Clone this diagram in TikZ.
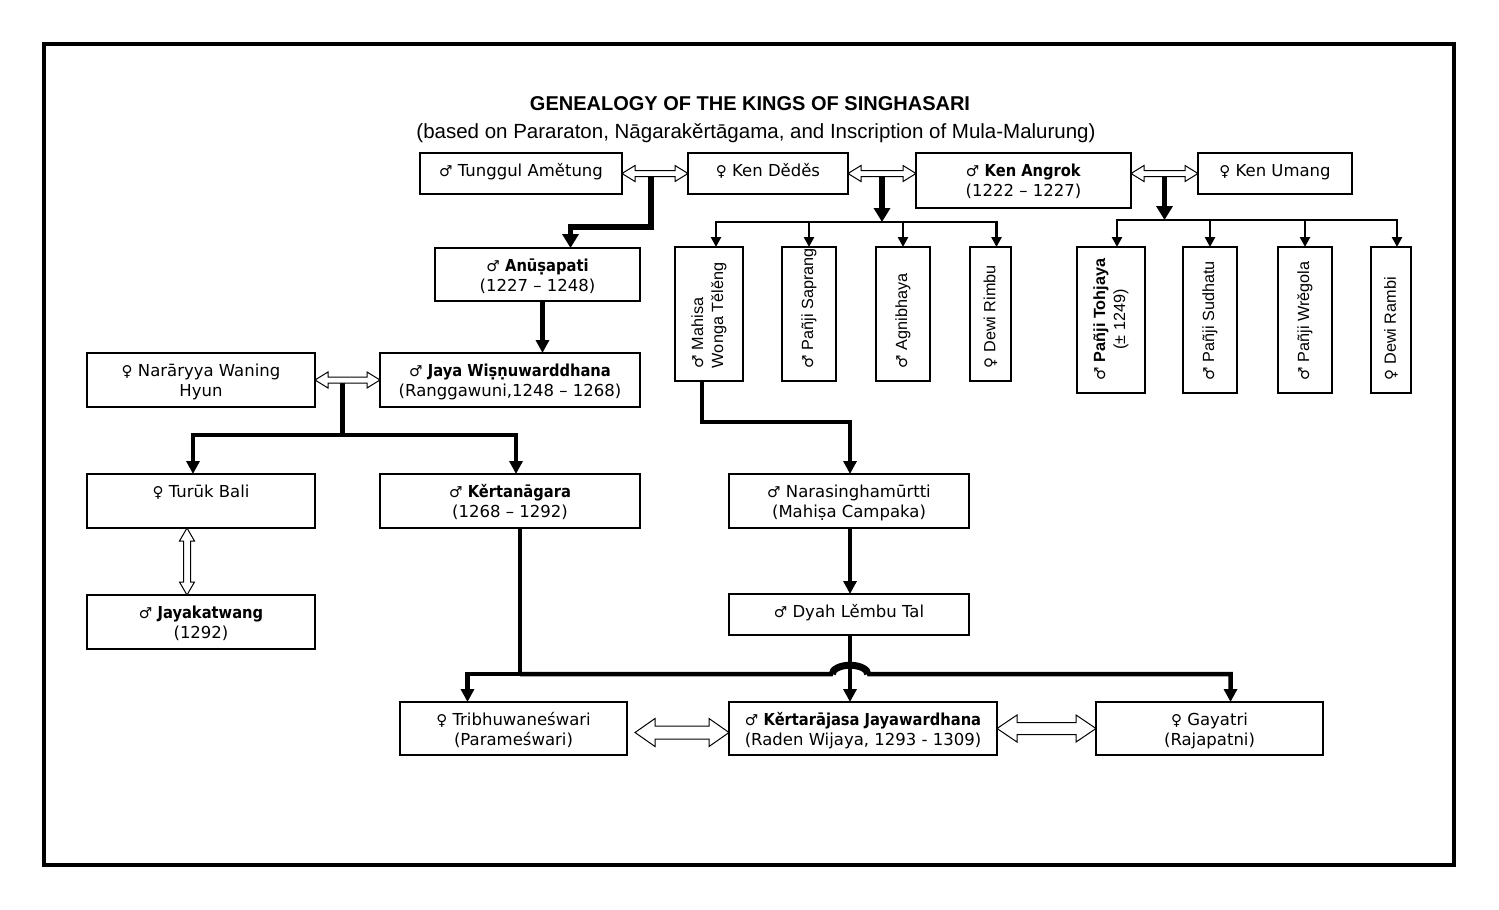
\documentclass[tikz,border=0pt]{standalone}
\usepackage{fontspec}
\usepackage{graphicx}
\setmainfont{DejaVu Sans}
\newfontfamily\dv{DejaVu Sans}
\newfontfamily\ar{Liberation Sans}
\usetikzlibrary{calc,arrows.meta}
\newcommand\ma{{\dv\fontsize{15}{15}\selectfont ♂}}
\newcommand\fe{{\dv\fontsize{15}{15}\selectfont ♀}}
\newcommand\nm[1]{\scalebox{0.89}[1]{\textbf{#1}}}
\tikzset{
  box/.style={draw,line width=1.3pt,inner sep=0pt,outer sep=0pt},
  hollow/.style={draw,fill=white,line width=1pt,line join=miter},
  thn/.style={line width=2.5pt},
  thnarr/.style={thn,-{Triangle[length=10pt,width=10pt]}},
  med/.style={line width=4.5pt},
  medarr/.style={med,-{Triangle[length=13pt,width=13pt]}},
  thk/.style={line width=5.8pt},
  thkarr/.style={thk,-{Triangle[length=14pt,width=16pt]}}
}
% horizontal box: name, x1, y1, x2, y2, text
\newcommand\hb[6]{\node[box,minimum width={#4-#2},minimum height={#5-#3}] (#1) at ({(#2+#4)/2},{(#3+#5)/2}) {\begin{minipage}[c][\dimexpr#5pt-#3pt\relax][t]{\dimexpr#4pt-#2pt\relax}\centering\fontsize{16.5}{20}\selectfont\vspace*{9pt}\strut #6\end{minipage}};}
% vertical box with rotated text
\newcommand\vb[6]{\node[box,minimum width={#4-#2},minimum height={#5-#3}] (#1) at ({(#2+#4)/2},{(#3+#5)/2}) {\rotatebox{90}{\begin{minipage}[c][\dimexpr#4pt-#2pt\relax][c]{\dimexpr#5pt-#3pt\relax}\raggedright\ar\fontsize{16.2}{20}\selectfont #6\end{minipage}}};}
% hollow double arrows: tip1, tip2, shaft half width, head half width, head length
\newcommand\harr[5]{\draw[hollow] (#1) -- ++(#5,#4) -- ++(0,{#3-#4}) -- ($(#2)+(-#5,#3)$) -- ++(0,{#4-#3}) -- (#2) -- ++(-#5,-#4) -- ++(0,{#4-#3}) -- ($(#1)+(#5,-#3)$) -- ++(0,{#3-#4}) -- cycle;}
\newcommand\varr[5]{\draw[hollow] (#1) -- ++(#4,#5) -- ++({#3-#4},0) -- ($(#2)+(#3,-#5)$) -- ++({#4-#3},0) -- (#2) -- ++(-#4,-#5) -- ++({#4-#3},0) -- ($(#1)+(-#3,#5)$) -- ++({#3-#4},0) -- cycle;}
\begin{document}
\begin{tikzpicture}[x=1pt,y=-1pt]
\useasboundingbox (0,0) rectangle (1499,910);
\fill[white] (0,0) rectangle (1499,910);
\draw[line width=4.5pt] (44,44) rectangle (1454,865);

\node[font={\ar\bfseries\fontsize{20}{24}\selectfont}] (title) at (750,104) {GENEALOGY OF THE KINGS OF SINGHASARI};
\node[font={\ar\fontsize{20.5}{24}\selectfont}] (sub) at (756,133) {(based on Pararaton, Nāgarakěrtāgama, and Inscription of Mula-Malurung)};

% boxes
\hb{tung}{420}{153}{622}{194}{\ma\ Tunggul Amětung}
\hb{dedes}{688}{153}{848}{194}{\fe\ Ken Děděs}
\hb{angrok}{916}{153}{1131}{208}{\ma\ \nm{Ken Angrok}\\(1222 – 1227)}
\hb{umang}{1198}{153}{1352}{194}{\fe\ Ken Umang}
\hb{anus}{435}{248}{640}{301}{\ma\ \nm{Anūṣapati}\\(1227 – 1248)}
\hb{jaya}{380}{353}{640}{407}{\ma\ \nm{Jaya Wiṣṇuwarddhana}\\(Ranggawuni,1248 – 1268)}
\hb{narar}{87}{353}{315}{407}{\fe\ Narāryya Waning\\Hyun}
\hb{turuk}{87}{474}{315}{528}{\fe\ Turūk Bali}
\hb{kerta}{380}{474}{640}{528}{\ma\ \nm{Kěrtanāgara}\\(1268 – 1292)}
\hb{narsi}{729}{474}{969}{528}{\ma\ Narasinghamūrtti\\(Mahiṣa Campaka)}
\hb{jkt}{87}{595}{315}{649}{\ma\ \nm{Jayakatwang}\\(1292)}
\hb{dyah}{729}{594}{969}{635}{\ma\ Dyah Lěmbu Tal}
\hb{tribh}{400}{702}{627}{755}{\fe\ Tribhuwaneśwari\\(Parameśwari)}
\hb{kr}{729}{702}{997}{755}{\ma\ \nm{Kěrtarājasa Jayawardhana}\\(Raden Wijaya, 1293 - 1309)}
\hb{gay}{1096}{702}{1323}{755}{\fe\ Gayatri\\(Rajapatni)}

\vb{mahisa}{675}{247}{743}{381}{\hspace*{13pt}\ma\ Mahisa\\\hspace*{13pt}Wonga Tělěng}
\vb{saprang}{782}{247}{836}{381}{\hspace*{13pt}\ma\ Pañji Saprang}
\vb{agni}{876}{247}{930}{381}{\hspace*{13pt}\ma\ Agnibhaya}
\vb{rimbu}{970}{247}{1011}{381}{\hspace*{13pt}\fe\ Dewi Rimbu}
\vb{tohjaya}{1077}{247}{1145}{393}{\hspace*{13pt}\begin{tabular}{@{}c@{}}\ma\ \textbf{Pañji Tohjaya}\\(± 1249)\end{tabular}}
\vb{sudhatu}{1183}{247}{1237}{393}{\hspace*{13pt}\ma\ Pañji Sudhatu}
\vb{wregola}{1278}{247}{1332}{393}{\hspace*{13pt}\ma\ Pañji Wrěgola}
\vb{rambi}{1371}{247}{1411}{393}{\hspace*{13pt}\fe\ Dewi Rambi}

% coordinates
\coordinate (ab1) at (tung.east); \coordinate (ab2) at (dedes.west);
\coordinate (bc1) at (dedes.east); \coordinate (bc2) at (angrok.west |- dedes.east);
\coordinate (cd1) at (angrok.east |- umang.west); \coordinate (cd2) at (umang.west);
\coordinate (abm) at ($(ab1)!.5!(ab2)+(-4,0)$);
\coordinate (bcm) at ($(bc1)!.5!(bc2)$);
\coordinate (cdm) at ($(cd1)!.5!(cd2)$);
\coordinate (busL) at ($(mahisa.north)+(0,-25)$);
\coordinate (busR) at ($(tohjaya.north)+(0,-27)$);

% stems from marriages
\draw[thkarr] (abm) |- ($(anus.north)+(33,-21)$) -- ($(anus.north)+(33,0)$);
\draw[thkarr] (bcm) -- (bcm |- busL);
\draw[thkarr] (cdm) -- (cdm |- busR);

% children of Ken Dedes
\coordinate (dl1) at ($(mahisa.north)+(7,0)$);
\coordinate (dl2) at (saprang.north);
\coordinate (dl3) at (agni.north);
\coordinate (dl4) at ($(rimbu.north)+(6,0)$);
\draw[thn,line cap=rect] (dl1 |- busL) -- (dl4 |- busL);
\foreach \d in {dl1,dl2,dl3,dl4} \draw[thnarr] (\d |- busL) -- (\d);

% children of Ken Umang
\coordinate (dr1) at ($(tohjaya.north)+(6,0)$);
\coordinate (dr2) at (sudhatu.north);
\coordinate (dr3) at (wregola.north);
\coordinate (dr4) at ($(rambi.north)+(6,0)$);
\draw[thn,line cap=rect] (dr1 |- busR) -- (dr4 |- busR);
\foreach \d in {dr1,dr2,dr3,dr4} \draw[thnarr] (\d |- busR) -- (\d);

% top marriage arrows
\harr{ab1}{ab2}{3}{8}{13}
\harr{bc1}{bc2}{3}{8}{13}
\harr{cd1}{cd2}{3}{8}{13}

% Anusapati -> Jaya
\coordinate (aj) at ($(anus.south)+(5,0)$);
\draw[medarr] (aj) -- (aj |- jaya.north);

% Nararyya - Jaya and children
\coordinate (nj1) at (narar.east); \coordinate (nj2) at (jaya.west);
\coordinate (njm) at ($(nj1)!.5!(nj2)+(-5,0)$);
\coordinate (bar2) at ($(turuk.north)+(0,-39)$);
\coordinate (t1) at ($(turuk.north)+(-8,0)$);
\coordinate (k1) at ($(kerta.north)+(6,0)$);
\draw[med] (njm) -- (njm |- bar2);
\draw[medarr] (njm |- bar2) -| (t1);
\draw[medarr] (njm |- bar2) -| (k1);
\harr{nj1}{nj2}{3}{8}{13}

% Turuk Bali - Jayakatwang
\coordinate (tj1) at ($(turuk.south)+(-14,0)$); \coordinate (tj2) at ($(jkt.north)+(-14,0)$);
\varr{tj1}{tj2}{3.5}{7.5}{13}

% Mahisa Wonga Teleng line
\coordinate (mb) at ($(mahisa.south)+(-7,0)$);
\coordinate (nt) at ($(narsi.north)+(1,0)$);
\draw[medarr] (mb) -- ++(0,41) -| (nt);
\coordinate (ns) at ($(narsi.south)+(1,0)$);
\draw[medarr] (ns) -- (ns |- dyah.north);
\coordinate (dk) at ($(dyah.south)+(1,0)$);

% bottom bus
\coordinate (busB) at ($(tribh.north)+(0,-28)$);
\coordinate (kb) at ($(kerta.south)+(10,0)$);
\coordinate (tr1) at ($(tribh.north)+(-46,0)$);
\coordinate (ga1) at ($(gay.north)+(21,0)$);
\coordinate (hop) at (dk |- busB);
\draw[med] (kb) -- (kb |- busB);
\draw[medarr] (kb |- busB) -| (tr1);
\draw[medarr] (kb |- busB) -- ($(hop)+(-19,0)$) arc[start angle=180,end angle=0,x radius=19pt,y radius=10pt] -| (ga1);
\draw[line width=6.5pt] ($(hop)+(-17.5,0)$) arc[start angle=180,end angle=0,x radius=17.5pt,y radius=8.5pt];
\draw[medarr] (dk) -- (dk |- kr.north);

% bottom marriage arrows
\coordinate (tk1) at ($(tribh.east)+(8,4)$); \coordinate (tk2) at ($(kr.west)+(0,4)$);
\harr{tk1}{tk2}{6.5}{14}{20}
\coordinate (kg1) at (kr.east); \coordinate (kg2) at (gay.west);
\harr{kg1}{kg2}{6}{13.5}{20}
\end{tikzpicture}
\end{document}
